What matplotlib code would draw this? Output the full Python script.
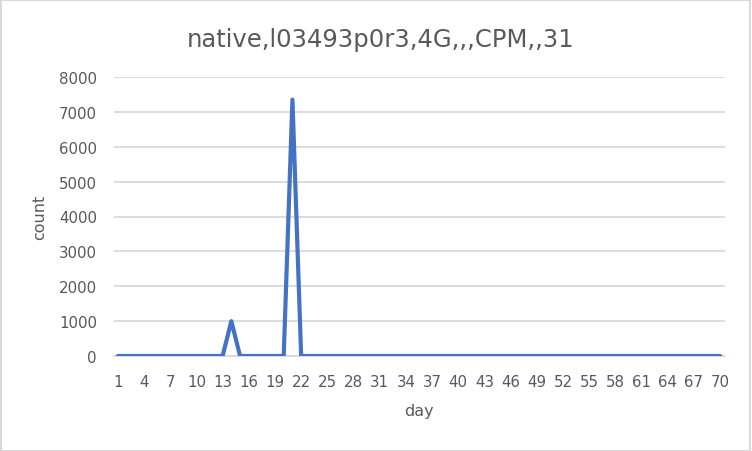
import numpy as np
import matplotlib.pyplot as plt

days = list(range(1, 71))
counts = [0] * 70
counts[13] = 1000   # day 14
counts[20] = 7350   # day 21
tick_days = list(range(1, 71, 3))
y_ticks = [0, 1000, 2000, 3000, 4000, 5000, 6000, 7000, 8000]

fig = plt.figure(figsize=(7.52, 4.52), dpi=100)
ax = fig.add_axes([113.5 / 752, 1 - 357 / 452, (724.5 - 113.5) / 752, (357 - 78) / 452])

ax.plot(days, counts, color='#4472C4', linewidth=3, solid_joinstyle='round', solid_capstyle='round', zorder=3)
ax.set_xlim(0.5, 70.5)
ax.set_ylim(0, 8000)
ax.set_yticks(y_ticks)
ax.set_xticks(tick_days)
ax.tick_params(length=0, labelsize=10.8, labelcolor='#595959')
ax.tick_params(axis='x', pad=13)
ax.tick_params(axis='y', pad=12)
ax.grid(axis='y', color='#D9D9D9', linewidth=1.3)
for s in ['top', 'right', 'left']:
    ax.spines[s].set_visible(False)
ax.spines['bottom'].set_color('#D9D9D9')
ax.spines['bottom'].set_linewidth(1.3)
ax.set_axisbelow(True)

ax.set_xlabel('day', fontsize=11.5, color='#595959', labelpad=10)
ax.set_ylabel('count', fontsize=11.5, color='#595959', labelpad=8)
fig.text(381 / 752, 1 - 40 / 452, 'native,l03493p0r3,4G,,,CPM,,31', fontsize=17.5,
         color='#595959', ha='center', va='center')

fig.patches.append(plt.Rectangle((0.001, 0.001), 0.997, 0.997, transform=fig.transFigure,
                                 fill=False, edgecolor='#D9D9D9', linewidth=1.5))

fig.savefig('out.png', dpi=100)
